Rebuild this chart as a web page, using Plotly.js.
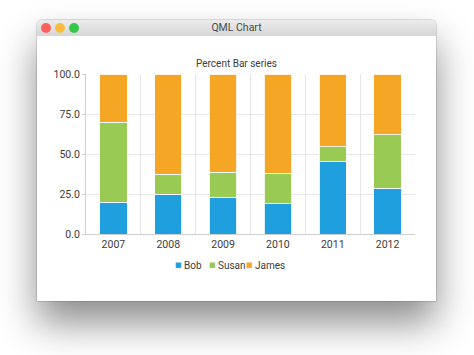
<!DOCTYPE html>
<html>
<head>
<meta charset="utf-8">
<script src="https://cdn.plot.ly/plotly-3.0.1.min.js"></script>
<style>
  html, body { margin: 0; padding: 0; background: #ffffff; width: 474px; height: 355px; overflow: hidden; }
  #win { position: absolute; left: 37px; top: 20px; width: 399px; height: 281px; background: #fff;
         border-radius: 5px 5px 1px 1px; box-shadow: 0 22px 38px rgba(0,0,0,0.45), 0 0 0 1px rgba(0,0,0,0.12); overflow: hidden; }
  #bar { position: absolute; left: 0; top: 0; width: 399px; height: 16px;
         background: linear-gradient(#ececec, #d6d6d6); border-bottom: 1px solid #bdbdbd;
         font-family: Roboto, "DejaVu Sans", sans-serif; font-size: 10.5px; color: #4a4a4a; text-align: center; line-height: 16px; }
  .dot { position: absolute; top: 3px; width: 10px; height: 10px; border-radius: 50%; }
  #chart { position: absolute; left: 0; top: 16px; width: 399px; height: 265px; }
</style>
</head>
<body>
<div id="win">
  <div id="bar">QML Chart
    <div class="dot" style="left:4px;background:#fc605c;"></div>
    <div class="dot" style="left:18px;background:#fdbc40;"></div>
    <div class="dot" style="left:32px;background:#34c84a;"></div>
  </div>
  <div id="chart"></div>
</div>
<script>
const categories = ["2007", "2008", "2009", "2010", "2011", "2012"];
const bob   = [20.0, 25.0, 23.1, 19.0, 45.5, 28.6];
const susan = [50.0, 12.5, 15.4, 19.0, 9.1, 33.3];
const james = [30.0, 62.5, 61.5, 62.0, 45.4, 38.1];
const seriesNames = ["Bob", "Susan", "James"];
const seriesColors = ["#209fdf", "#99ca53", "#f6a625"];

const font = "Roboto, 'DejaVu Sans', sans-serif";
const fsize = 10;
const data = [bob, susan, james].map((vals, i) => ({
  type: "bar",
  name: seriesNames[i],
  x: categories,
  y: vals,
  showlegend: false,
  marker: { color: seriesColors[i], line: { color: "rgba(255,255,255,0.85)", width: 1 } },
  hoverinfo: "skip"
}));

// legend drawn as compact annotations (page-space layout of plot area: x 86..415, y 74..234)
const plotLeft = 86, plotW = 329, plotBottom = 234, plotH = 160;
const squareX = [178, 212, 249];
const labelX = [182, 216, 253];
const legendY = 265;
const toPX = px => (px - plotLeft) / plotW;
const legY = (plotBottom - legendY) / plotH;
const annotations = [];
seriesNames.forEach((n, i) => {
  annotations.push({
    xref: "paper", yref: "paper", x: toPX(squareX[i]), y: legY,
    xanchor: "center", yanchor: "middle", showarrow: false,
    text: "■", font: { family: "DejaVu Sans", size: 7, color: seriesColors[i] }
  });
  annotations.push({
    xref: "paper", yref: "paper", x: toPX(labelX[i]), y: legY,
    xanchor: "left", yanchor: "middle", showarrow: false,
    text: n, font: { family: font, size: fsize, color: "#3c3c3c" }
  });
});

const layout = {
  width: 399, height: 265,
  margin: { l: 49, r: 21, t: 38, b: 67 },
  barmode: "stack",
  bargap: 0.5,
  paper_bgcolor: "#ffffff",
  plot_bgcolor: "#ffffff",
  font: { family: font, size: fsize, color: "#3c3c3c" },
  title: { text: "Percent Bar series", font: { family: font, size: fsize, color: "#3c3c3c" },
           x: 0.5, xref: "container", y: 1 - 27/265, yref: "container", yanchor: "middle" },
  xaxis: {
    type: "category", tickson: "boundaries", showgrid: true, gridcolor: "#e6e6e6", gridwidth: 1,
    showline: true, linecolor: "#cfcfcf", ticks: "", ticklen: 0,
    tickfont: { family: font, size: fsize + 0.5, color: "#3c3c3c" }, mirror: false
  },
  yaxis: {
    range: [0, 100], tickvals: [0, 25, 50, 75, 100], tickformat: ".1f",
    showgrid: true, gridcolor: "#e6e6e6", zeroline: false,
    showline: true, linecolor: "#cfcfcf", ticks: "outside", ticklen: 3, tickcolor: "#cfcfcf",
    tickfont: { family: font, size: fsize + 0.5, color: "#3c3c3c" }
  },
  showlegend: false,
  annotations: annotations
};

Plotly.newPlot("chart", data, layout, { staticPlot: true, displayModeBar: false });
</script>
</body>
</html>
